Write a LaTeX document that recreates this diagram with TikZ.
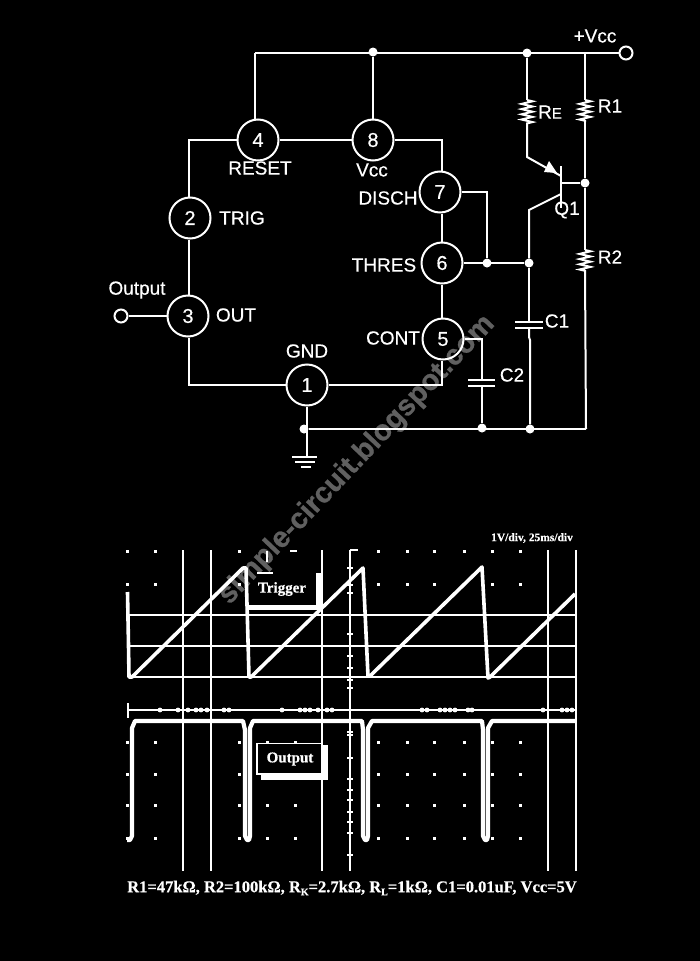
\documentclass[tikz,border=0pt]{standalone}
\usepackage{fontspec}
\setmainfont{Liberation Sans}
\newfontfamily\labfont{Liberation Sans}[FakeBold=0.35]
\newfontfamily\wmfont{Liberation Sans Bold}[FakeBold=0.8]
\newfontfamily\capfont{Liberation Serif Bold}[FakeBold=0.5]
\usetikzlibrary{decorations.pathmorphing}
\tikzset{
  pinnode/.style={circle,draw=white,line width=2pt,minimum size=41pt,inner sep=0pt,text=white,font=\labfont\fontsize{20}{20}\selectfont},
  lab/.style={text=white,inner sep=0pt,font=\labfont\fontsize{19}{19}\selectfont},
  wire/.style={draw=white,line width=2pt},
  res/.style={draw=white,line width=2pt,decorate,decoration={zigzag,segment length=5.2pt,amplitude=5.5pt}},
  jn/.style={circle,fill=white,inner sep=0pt,minimum size=9pt},
  termnode/.style={circle,draw=white,line width=2pt,minimum size=13pt,inner sep=0pt},
  scopeline/.style={draw=white,line width=2pt},
  tracei/.style={draw=white,line width=3.6pt,line join=round},
  pulsei/.style={draw=white,line width=4.2pt,line join=round},
  boxlab/.style={text=white,inner sep=0pt,font=\capfont\fontsize{15}{15}\selectfont},
  caplab/.style={text=white,inner sep=0pt,font=\capfont\fontsize{16.5}{16.5}\selectfont}
}
\begin{document}
\begin{tikzpicture}[x=1pt,y=-1pt]
\useasboundingbox (0,0) rectangle (700,961);
\fill[black] (0,0) rectangle (700,961);
% watermark
\node[text={rgb,255:red,96;green,96;blue,96},inner sep=0pt,rotate=46.5,font=\wmfont\fontsize{29}{29}\selectfont] (wm) at (357,460) {simple-circuit.blogspot.com};
% pins
\node[pinnode] (n4) at (258,140) {4};
\node[pinnode] (n8) at (373,140) {8};
\node[pinnode] (n2) at (190,218) {2};
\node[pinnode] (n3) at (188,316) {3};
\node[pinnode] (n1) at (307,385) {1};
\node[pinnode] (n7) at (440,192) {7};
\node[pinnode] (n6) at (442,263) {6};
\node[pinnode] (n5) at (443,339) {5};
\node[termnode] (vcc) at (626,53) {};
\node[termnode] (outp) at (121,316) {};
% labels
\node[lab] (lreset) at (260,168) {RESET};
\node[lab] (lvcc) at (372,170) {Vcc};
\node[lab] (ltrig) at (242,218) {TRIG};
\node[lab] (ldisch) at (388,198) {DISCH};
\node[lab] (lthres) at (384,265) {THRES};
\node[lab] (lcont) at (393,338) {CONT};
\node[lab] (lout) at (236,315) {OUT};
\node[lab] (loutput) at (137,290) {Output};
\node[lab] (lgnd) at (307,351) {GND};
\node[lab] (lvp) at (595,36) {+Vcc};
\node[lab] (lr1) at (610,106) {R1};
\node[lab] (lr2) at (610,257) {R2};
\node[lab] (lre) at (550,112) {R{\fontsize{15}{15}\selectfont E}};
\node[lab] (lq1) at (567,210) {Q1};
\node[lab] (lc1) at (557,321) {C1};
\node[lab] (lc2) at (512,375) {C2};
% junctions
\node[jn] (j8) at (373,52) {};
\node[jn] (jre) at (527,53) {};
\node[jn] (jb) at (585,183) {};
\node[jn] (j76) at (487,263) {};
\node[jn] (jc) at (529,263) {};
\node[jn] (jg) at (304,429) {};
\node[jn] (jc2) at (482,428) {};
\node[jn] (jc1) at (530,429) {};
\coordinate (tl) at (255,53);
\coordinate (r1top) at (585,53);
\coordinate (br) at (586,429);
\coordinate (c24) at (189,140);
\coordinate (c13) at (189,385);
\coordinate (c87) at (442,140);
\coordinate (c15) at (442,385);
\coordinate (c7r) at (487,192);
\coordinate (c5r) at (482,339);
% supply and pin wiring
\draw[wire] (tl) -- (vcc.west);
\draw[wire] (tl) -- (tl |- n4.north);
\draw[wire] (j8) -- (j8 |- n8.north);
\draw[wire] (n4.east) -- (n8.west);
\draw[wire] (n4.west) -- (c24) -- (c24 |- n2.north);
\draw[wire] (c24 |- n2.south) -- (c24 |- n3.north);
\draw[wire] (c24 |- n3.south) -- (c13) -- (n1.west);
\draw[wire] (outp.east) -- (n3.west);
\draw[wire] (n8.east) -- (c87) -- (c87 |- n7.north);
\draw[wire] (c87 |- n7.south) -- (c87 |- n6.north);
\draw[wire] (c87 |- n6.south) -- (c87 |- n5.north);
\draw[wire] (n1.east) -- (c15) -- (c15 |- n5.south);
\draw[wire] (n7.east) -- (c7r) -- (j76);
\draw[wire] (n6.east) -- (jc);
% ground
\coordinate (g1) at (307,457);
\draw[wire] (n1.south) -- (g1);
\draw[wire] (jg) -- (br);
\draw[wire] (292,457) -- (317,457);
\draw[wire] (295,462) -- (315,462);
\draw[wire] (301,467) -- (311,467);
% R_E and transistor
\coordinate (ret) at (527,100);
\coordinate (reb) at (527,124);
\coordinate (ek) at (527,157);
\coordinate (bar1) at (561,166);
\coordinate (bar2) at (561,208);
\coordinate (em) at (561,176);
\coordinate (cl) at (561,194);
\coordinate (ck) at (529,210);
\draw[wire] (jre) -- (ret);
\draw[res] (ret) -- (reb);
\draw[wire] (reb) -- (ek) -- (em);
\fill[white] (557,173) -- (544,172) -- (549,161) -- cycle;
\draw[wire] (bar1) -- (bar2);
\draw[wire] (561,183) -- (jb);
\draw[wire] (cl) -- (ck) -- (jc);
% R1 R2
\coordinate (r1t) at (585,100);
\coordinate (r1b) at (585,122);
\coordinate (r2t) at (585,250);
\coordinate (r2b) at (585,272);
\draw[wire] (r1top) -- (r1t);
\draw[res] (r1t) -- (r1b);
\draw[wire] (r1b) -- (jb) -- (r2t);
\draw[res] (r2t) -- (r2b);
\draw[wire] (r2b) -- (br);
% C1
\coordinate (c1a) at (529,322);
\coordinate (c1b) at (529,328);
\draw[wire] (jc) -- (c1a);
\draw[wire] (515,322) -- (543,322);
\draw[wire] (515,328) -- (543,328);
\draw[wire] (c1b) -- (529,337) -- (530,340) -- (jc1);
% C2
\coordinate (c2a) at (482,380);
\coordinate (c2b) at (482,385);
\draw[wire] (n5.east) -- (c5r) -- (c2a);
\draw[wire] (468,380) -- (495,380);
\draw[wire] (468,386) -- (495,386);
\draw[wire] (c2b) -- (jc2);
% --- scope ---
\foreach \y in {615,646,677} \draw[scopeline] (128,\y) -- (576,\y);
\foreach \x in {183,211,322,350,548,576} \draw[scopeline] (\x,550) -- (\x,871);
\draw[scopeline] (128,710) -- (576,710);
\draw[scopeline] (128,703) -- (128,718);
\draw[scopeline] (350,550) -- (358,550);
\foreach \x in {127,155,239,378,407,434,464,492,520} \fill[white] (\x-1.5,551-1.5) rectangle (\x+1.5,551+1.5);
\foreach \x in {127,155,239,378,407,434,492,520} \fill[white] (\x-1.5,584-1.5) rectangle (\x+1.5,584+1.5);
\foreach \y in {742,774,805,838} \foreach \x in {127,155,239,267,295,378,407,434,464,492,520} \fill[white] (\x-1.5,\y-1.5) rectangle (\x+1.5,\y+1.5);
\foreach \x in {160,178,188,196,201,207,224,229,282,300,305,310,318,327,332,422,427,440,445,450,455,468,472,543,562,567,572}
  \fill[white] (\x,710) circle (2.4);
\foreach \y in {568,585,593,634,656,668,680,688,732,735,758,779,790,800,812,822,833,855}
  \draw[white,line width=1.8pt] (347,\y) -- (353,\y);
% sawtooth
\draw[tracei] (127.5,592) -- (128.5,645) -- (129,677) -- (132,677) -- (243,568) -- (246,568) -- (249,677) -- (251,677) -- (363,568) -- (368,676) -- (370,676) -- (482,567) -- (488,678) -- (490,677) -- (575,594);
% output trace
\draw[pulsei] (127,840) -- (130,840) -- (132,836) -- (132,728) -- (135,721) -- (243,721) -- (245,730) -- (245,836) -- (247,840) -- (249,840) -- (250,836) -- (250,728) -- (253,721) -- (362,721) -- (363,730) -- (363,836) -- (365,840) -- (367,840) -- (368,836) -- (368,728) -- (372,721) -- (482,721) -- (483,730) -- (483,836) -- (485,840) -- (487,840) -- (488,836) -- (488,728) -- (492,721) -- (576,721);
% Trigger box
\fill[white] (248,605) rectangle (323,610);
\fill[white] (316,573) rectangle (323,610);
\draw[white,line width=1.8pt] (257,573) -- (273,573);
\draw[white,line width=1.8pt] (267,551) -- (267,562);
\draw[white,line width=1.8pt] (290,551) -- (297,551);
\node[boxlab] (ltrigger) at (282,589) {Trigger};
% Output box
\fill[white] (261,775) rectangle (328,780);
\fill[white] (322,745) rectangle (328,780);
\fill[black] (258,744) rectangle (321,773);
\draw[white,line width=1.8pt] (257,743.5) rectangle (322,774);
\node[boxlab] (loutbox) at (290,759) {Output};
% captions
\node[text=white,inner sep=0pt,font=\capfont\fontsize{11.5}{11.5}\selectfont] (ldiv) at (532,538) {1V/div, 25ms/div};
\node[caplab] (lcap) at (352,888) {R1=47kΩ, R2=100kΩ, R\raisebox{-3pt}{\fontsize{10}{10}\selectfont K}=2.7kΩ, R\raisebox{-3pt}{\fontsize{10}{10}\selectfont L}=1kΩ, C1=0.01uF, Vcc=5V};
\end{tikzpicture}
\end{document}
